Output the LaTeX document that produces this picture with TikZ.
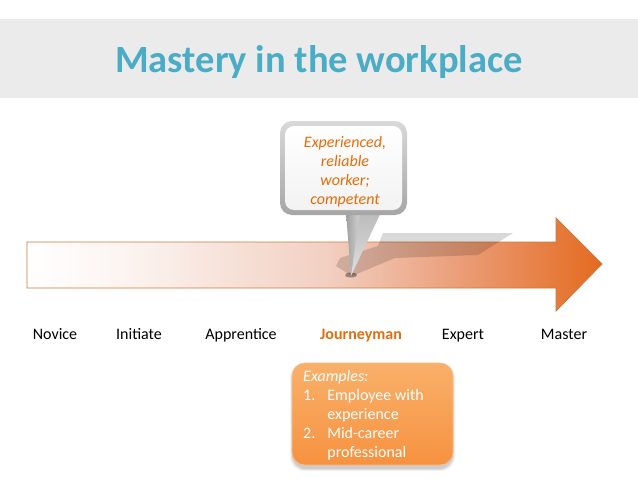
\documentclass[tikz,border=0pt]{standalone}
\usepackage{fontspec}
\setmainfont{Carlito}
\usetikzlibrary{shapes.geometric}
\definecolor{titleblue}{HTML}{4BACC6}
\definecolor{band}{HTML}{EBEBEB}
\definecolor{orangetxt}{HTML}{E46C0A}
\definecolor{arrowline}{HTML}{C97B3C}
\definecolor{ca}{HTML}{FCF5F2}
\definecolor{cb}{HTML}{F2D0C2}
\definecolor{cc}{HTML}{EBA07C}
\definecolor{cd}{HTML}{E46A20}
\definecolor{boxtop}{HTML}{F9B06A}
\definecolor{boxbot}{HTML}{F69240}
\definecolor{boxedge}{HTML}{F9BC86}
\pgfdeclarehorizontalshading{arrowshade}{100bp}{color(0bp)=(white); color(25bp)=(white); color(33bp)=(ca); color(51bp)=(cb); color(62bp)=(cc); color(75bp)=(cd); color(100bp)=(cd)}
\tikzset{
  stage/.style={anchor=base, font=\fontsize{16}{19}\selectfont, text=black, inner sep=0pt},
  calltext/.style={align=center, font=\fontsize{16}{19}\selectfont\itshape, text=orangetxt, inner sep=0pt},
}
\begin{document}
\begin{tikzpicture}[x=1pt,y=-1pt]
\useasboundingbox (0,0) rectangle (638,479);
% title band
\fill[band] (0,19) rectangle (638,98);
\node[font=\fontsize{38.5}{46}\selectfont\bfseries, text=titleblue, anchor=base] (title) at (319,72) {Mastery in the workplace};

% arrow
\path[shading=arrowshade, draw=arrowline, line width=0.8pt]
  (27,242) -- (556,242) -- (556,218) -- (602,264) -- (556,311) -- (556,288) -- (27,288) -- cycle;

% shadow of callout
\fill[black, opacity=0.15]
  (383,233) -- (513,233) -- (478,255) -- (395,258) -- (352,276) -- (336,266) -- (340,258) -- (378,246) -- cycle;
\fill[black, opacity=0.35] (351,275) ellipse (6 and 2.5);

% callout frame + pointer
\path[top color=gray!55, bottom color=gray!25, shading angle=0]
  (346,208) -- (383,208) -- (351,276) -- cycle;
\path[left color=gray!75, right color=gray!35]
  (346,212) -- (360,212) -- (351,276) -- cycle;
\path[top color=gray!30, bottom color=gray!70, rounded corners=12pt]
  (280,121) rectangle (407,215);
\path[top color=white, bottom color=gray!10, rounded corners=9pt]
  (285,126) rectangle (402,210);
\node[calltext] (callout) at (345,172) {Experienced,\\reliable\\worker;\\competent};

% stage labels
\node[stage] (n1) at (55,339) {Novice};
\node[stage] (n2) at (139,339) {Initiate};
\node[stage] (n3) at (241,339) {Apprentice};
\node[stage, text=orangetxt, font=\fontsize{16}{19}\selectfont\bfseries] (n4) at (361,339) {Journeyman};
\node[stage] (n5) at (463,339) {Expert};
\node[stage] (n6) at (564,339) {Master};

% examples box
\foreach \o/\a in {4/0.05,3/0.07,2/0.09}{
  \fill[black, opacity=\a, rounded corners=14pt] (292-\o+2,363-\o+4) rectangle (453+\o-2,465+\o+2);
}
\path[top color=boxtop, bottom color=boxbot, draw=boxedge, line width=0.6pt, rounded corners=13pt]
  (292,363) rectangle (453,465);
\node[anchor=north west, inner sep=0pt, text=white, font=\fontsize{16}{19}\selectfont] (ex) at (303,368)
  {\begin{tabular}{@{}l@{\hspace{12pt}}l@{}}
   \multicolumn{2}{@{}l}{\itshape Examples:}\\
   1. & Employee with\\
      & experience\\
   2. & Mid-career\\
      & professional
   \end{tabular}};
\end{tikzpicture}
\end{document}
